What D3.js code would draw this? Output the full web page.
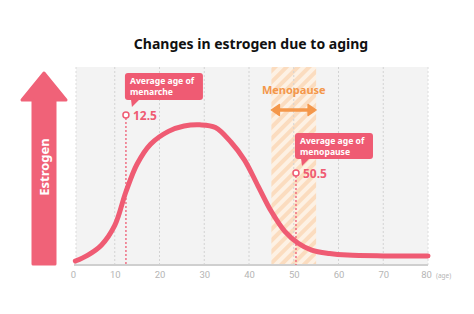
<!DOCTYPE html>
<html>
<head>
<meta charset="utf-8">
<script src="https://cdn.jsdelivr.net/npm/d3@7"></script>
<style>
  html, body { margin: 0; padding: 0; background: #fff; }
  svg { display: block; font-family: "Noto Sans", "DejaVu Sans", sans-serif; }
</style>
</head>
<body>
<svg id="chart" width="474" height="314"></svg>
<script>
// ---- data ----
const ages      = [1.2, 4, 7, 10, 12.5, 15, 18, 22, 25.5, 29, 32.5, 36, 39, 42, 45, 48, 51, 54, 58, 62, 70, 80];
const estrogen  = [2, 5, 10, 20, 37, 51, 61, 67.5, 70.2, 70.8, 69.5, 62, 53, 40, 27, 17, 11, 7.5, 5.8, 5, 4.6, 4.5];
const xTicks    = [0, 10, 20, 30, 40, 50, 60, 70, 80];
const gridAges  = [10, 20, 30, 40, 50, 60, 70];
const menopauseRange = [45, 55];
const markers = [
  { age: 12.5, label: "12.5", lines: ["Average age of", "menarche"] },
  { age: 50.5, label: "50.5", lines: ["Average age of", "menopause"] }
];
const title = "Changes in estrogen due to aging";

// ---- layout ----
const svg = d3.select("#chart");
const pink = "#ef5b73";
const orange = "#f4974a";
const plotTop = 67, plotBottom = 265, plotLeft = 76, plotRight = 428;

const x = d3.scaleLinear().domain([0, 80]).range([70, 428]);
const y = d3.scaleLinear().domain([0, 100]).range([plotBottom, plotTop]);

// defs: hatch pattern
const defs = svg.append("defs");
const pat = defs.append("pattern").attr("id", "hatch").attr("patternUnits", "userSpaceOnUse")
  .attr("width", 8).attr("height", 8).attr("patternTransform", "rotate(45)");
pat.append("rect").attr("width", 8).attr("height", 8).attr("fill", "#fdf1e4");
pat.append("rect").attr("width", 4).attr("height", 8).attr("fill", "#fbdcbf");

// title
svg.append("text").attr("x", 251).attr("y", 49).attr("text-anchor", "middle")
  .attr("font-size", 14).attr("font-weight", "bold").attr("fill", "#111").text(title);

// plot background
svg.append("rect").attr("x", plotLeft).attr("y", plotTop).attr("width", plotRight - plotLeft)
  .attr("height", plotBottom - plotTop).attr("fill", "#f3f3f3");

// menopause band
svg.append("rect").attr("x", x(menopauseRange[0])).attr("y", plotTop)
  .attr("width", x(menopauseRange[1]) - x(menopauseRange[0])).attr("height", plotBottom - plotTop)
  .attr("fill", "url(#hatch)");

// grid lines
svg.append("g").selectAll("line").data(gridAges).join("line")
  .attr("x1", d => x(d)).attr("x2", d => x(d)).attr("y1", plotTop).attr("y2", plotBottom)
  .attr("stroke", "#d3d3d3").attr("stroke-width", 1).attr("stroke-dasharray", "2,2");
[plotLeft, plotRight].forEach(px => {
  svg.append("line").attr("x1", px).attr("x2", px).attr("y1", plotTop).attr("y2", plotBottom)
    .attr("stroke", "#dcdcdc").attr("stroke-dasharray", "2,2");
});

// x axis
const axis = svg.append("g").attr("transform", `translate(0,${plotBottom})`)
  .call(d3.axisBottom(x).tickValues(xTicks).tickSize(0).tickPadding(6));
axis.select(".domain").remove();
axis.selectAll("text").attr("font-size", 9.5).attr("fill", "#b5b5b5")
  .attr("font-family", "Roboto, 'Noto Sans', sans-serif")
  .attr("dx", d => d === 0 ? 3 : d === 80 ? -2 : 0);
svg.append("line").attr("x1", plotLeft - 2).attr("x2", plotRight).attr("y1", plotBottom).attr("y2", plotBottom)
  .attr("stroke", "#cfcfcf").attr("stroke-width", 2);
svg.append("text").attr("x", 436).attr("y", 278).attr("font-size", 6.5).attr("fill", "#b5b5b5").text("(age)");

// marker dashed lines
svg.append("g").selectAll("line").data(markers).join("line")
  .attr("x1", d => x(d.age)).attr("x2", d => x(d.age))
  .attr("y1", (d, i) => i === 0 ? 118 : 176).attr("y2", plotBottom)
  .attr("stroke", pink).attr("stroke-width", 1.3).attr("stroke-dasharray", "2,2");

// curve
const line = d3.line().x(d => x(d[0])).y(d => y(d[1])).curve(d3.curveCatmullRom.alpha(0.5));
svg.append("path").datum(ages.map((a, i) => [a, estrogen[i]]))
  .attr("d", line).attr("fill", "none").attr("stroke", pink)
  .attr("stroke-width", 5).attr("stroke-linecap", "round");

// callouts
const callY = [[73, 100, 115], [133, 159, 173]];
markers.forEach((m, i) => {
  const cx = x(m.age);
  const [bt, bb, my] = callY[i];
  const bl = cx - 1, br = cx + 77;
  const g = svg.append("g");
  g.append("rect").attr("x", bl).attr("y", bt).attr("width", br - bl).attr("height", bb - bt)
    .attr("rx", 3).attr("fill", pink);
  g.append("path").attr("d", `M${cx + 5},${bb - 1} L${cx + 6},${bb + 7} L${cx + 14},${bb - 1} Z`).attr("fill", pink);
  g.selectAll("text").data(m.lines).join("text")
    .attr("x", bl + 5).attr("y", (d, j) => bt + 10.5 + j * 11)
    .attr("font-size", 8.6).attr("font-weight", "bold").attr("fill", "#fff").text(d => d);
  g.append("circle").attr("cx", cx).attr("cy", my).attr("r", 3)
    .attr("fill", "#fff").attr("stroke", pink).attr("stroke-width", 1.5);
  g.append("text").attr("x", cx + 7).attr("y", my + 5).attr("font-size", 12)
    .attr("font-weight", "bold").attr("fill", pink).text(m.label);
});

// menopause label + double arrow
const mx0 = x(menopauseRange[0]), mx1 = x(menopauseRange[1]);
const mmid = (mx0 + mx1) / 2;
svg.append("text").attr("x", mmid).attr("y", 94).attr("text-anchor", "middle")
  .attr("font-size", 11).attr("font-weight", "bold").attr("fill", orange).text("Menopause");
svg.append("line").attr("x1", mx0 + 6).attr("x2", mx1 - 6).attr("y1", 110).attr("y2", 110)
  .attr("stroke", orange).attr("stroke-width", 3.5);
svg.append("path").attr("d", `M${mx0},110 L${mx0 + 8},104.5 L${mx0 + 8},115.5 Z M${mx1},110 L${mx1 - 8},104.5 L${mx1 - 8},115.5 Z`)
  .attr("fill", orange).attr("stroke", orange).attr("stroke-linejoin", "round").attr("stroke-width", 1.5);

// estrogen arrow
svg.append("path")
  .attr("d", "M33,264 L55,264 L55,100 L66,100 L44,73 L22,100 L33,100 Z")
  .attr("fill", "#f06278").attr("stroke", "#f06278").attr("stroke-width", 3).attr("stroke-linejoin", "round");
svg.append("text").attr("transform", "translate(49,167) rotate(-90)").attr("text-anchor", "middle")
  .attr("font-size", 13).attr("font-weight", "bold").attr("fill", "#fff").text("Estrogen");
</script>
</body>
</html>
